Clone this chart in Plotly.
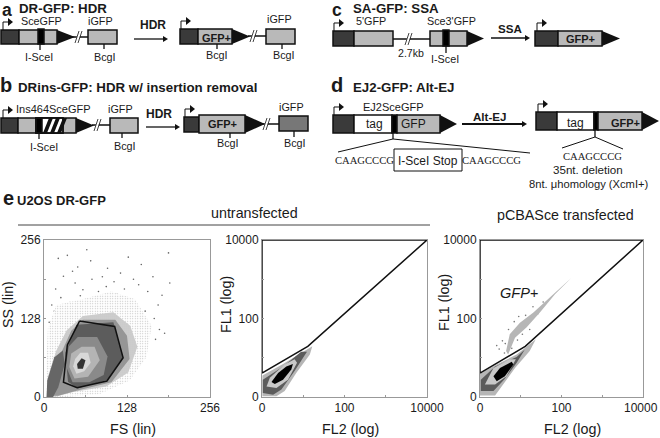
import numpy as np
import plotly.graph_objects as go

W, H = 660, 438
FONT = "Liberation Sans"
INK = "#1a1a1a"
GREY = "#b9b9b9"
DARK = "#3a3a3a"

# FS / SS panel, channel values
gate_fs = [55, 109, 122, 97, 51, 30, 36, 55]
gate_ss = [124, 115, 64, 26, 15, 24, 85, 124]
cloud_outer_fs = [3, 4, 6, 19, 60, 104, 140, 166, 158, 132, 86, 35]
cloud_outer_ss = [0, 65, 112, 150, 160, 172, 160, 116, 65, 27, 5, 0]
cloud_mid_fs = [4, 6, 19, 35, 60, 107, 133, 144, 130, 96, 45, 19]
cloud_mid_ss = [0, 33, 76, 109, 132, 138, 116, 82, 40, 17, 8, 1]
cloud_inner_fs = [8, 24, 42, 60, 110, 128, 132, 104, 50, 22]
cloud_inner_ss = [2, 66, 108, 126, 126, 100, 62, 24, 10, 2]
cloud_dense_fs = [37, 33, 50, 107, 122, 98, 52]
cloud_dense_ss = [25, 72, 118, 122, 65, 28, 14]
streak_fs = [4, 5, 16, 29, 32, 22, 14]
streak_ss = [0, 27, 65, 76, 54, 16, 0]
ring_fs = [52, 82, 98, 92, 70, 44, 34, 38]
ring_ss = [98, 98, 66, 36, 24, 24, 50, 82]
halo_fs = [58, 78, 86, 68, 47, 39, 42]
halo_ss = [82, 82, 60, 33, 30, 49, 71]
glow_fs = [56, 68, 72, 62, 50, 45, 48]
glow_ss = [72, 72, 56, 42, 38, 50, 62]
core_fs = [58, 64, 60, 52, 51]
core_ss = [63, 60, 46, 46, 54]
sparse_fs = [22, 36, 44, 52, 66, 72, 90, 98, 108, 118, 130, 150, 168, 192, 194, 182, 176, 160,
             146, 138, 124, 112, 96, 84, 74, 60, 48, 30, 18, 12, 8, 16, 26, 40, 56, 70, 88,
             104, 122, 142, 156, 170, 178, 186, 172, 150, 128, 110, 92, 78, 62, 42, 28, 14, 10,
             34, 50, 68, 82, 100, 116, 134, 148, 164]
sparse_ss = [226, 231, 205, 212, 240, 222, 196, 210, 188, 202, 228, 216, 196, 235, 186, 166, 150,
             172, 183, 192, 176, 168, 180, 172, 192, 175, 186, 197, 176, 150, 122, 140, 162, 154,
             165, 156, 160, 150, 158, 150, 140, 128, 110, 104, 94, 84, 66, 40, 14, 12, 10, 6, 14,
             120, 96, 140, 132, 148, 138, 144, 134, 138, 126, 114]

# FL2 / FL1 panels, positions in log10 decades
fl_gate_x = [0, 0, 4, 1.11, 0]
fl_gate_y = [0.61, 4, 4, 1.29, 0.61]

untr_outer_x = [0.01, 0.01, 0.51, 0.99, 1.22, 1.16, 0.83, 0.55, 0.35]
untr_outer_y = [0.02, 0.55, 0.84, 1.15, 1.29, 1.08, 0.61, 0.15, 0.02]
untr_mid_x = [0.02, 0.02, 0.51, 0.95, 1.09, 0.79, 0.47, 0.27]
untr_mid_y = [0.10, 0.44, 0.78, 1.15, 1.15, 0.66, 0.19, 0.06]
untr_light_x = [0.11, 0.19, 0.55, 0.79, 0.85, 0.63, 0.35]
untr_light_y = [0.27, 0.49, 0.83, 0.96, 0.87, 0.44, 0.23]
untr_core_x = [0.23, 0.39, 0.59, 0.75, 0.71, 0.51, 0.31]
untr_core_y = [0.38, 0.61, 0.78, 0.84, 0.70, 0.44, 0.33]

trans_outer_x = [0, 0, 0.41, 0.90, 1.37, 1.22, 0.86, 0.53, 0.37]
trans_outer_y = [0.04, 0.59, 0.83, 1.08, 1.47, 1.17, 0.74, 0.27, 0.04]
trans_mid_x = [0.02, 0.02, 0.37, 0.90, 1.10, 0.90, 0.59, 0.33]
trans_mid_y = [0.15, 0.44, 0.78, 1.02, 1.21, 0.87, 0.44, 0.15]
trans_light_x = [0.12, 0.33, 0.73, 0.88, 0.65, 0.37]
trans_light_y = [0.32, 0.74, 0.96, 0.96, 0.53, 0.32]
trans_core_x = [0.33, 0.49, 0.78, 0.82, 0.61, 0.41]
trans_core_y = [0.53, 0.74, 0.90, 0.83, 0.53, 0.40]
gfp_x = [0.64, 0.73, 0.98, 1.31, 1.80, 2.24, 1.84, 1.47, 1.14, 0.86, 0.69]
gfp_y = [1.17, 1.60, 1.89, 2.15, 2.62, 3.03, 2.62, 2.15, 1.77, 1.51, 1.08]
gfp_sparse_x = [0.41, 0.47, 0.55, 0.60, 0.62, 0.70, 0.78, 0.84, 0.92, 0.95, 1.04, 1.12, 1.22, 1.30, 1.42, 1.55]
gfp_sparse_y = [1.31, 1.22, 1.43, 1.12, 1.36, 1.72, 1.24, 1.92, 1.45, 2.05, 1.60, 2.08, 1.72, 2.30, 2.12, 2.42]

log_ticks = [1, 10, 100, 1000, 10000]
log_labels = ["0", "", "100", "", "10000"]
log_labels_edge = ["0", "", "100", "", ""]
lin_ticks = [0, 64, 128, 192, 256]
lin_labels = ["0", "", "128", "", "256"]


def px(x):
    return x / W


def py(y):
    return 1 - y / H


def box(x0, y0, x1, y1, fill=GREY, width=1.5):
    return dict(type="rect", xref="paper", yref="paper", x0=px(x0), x1=px(x1), y0=py(y1), y1=py(y0),
                fillcolor=fill, line=dict(color="#111", width=width))


def poly(points, fill="#111", width=0):
    path = "M " + " L ".join(f"{px(x):.5f},{py(y):.5f}" for x, y in points)
    if fill != "none":
        path += " Z"
    return dict(type="path", xref="paper", yref="paper", path=path,
                fillcolor=fill if fill != "none" else "rgba(0,0,0,0)",
                line=dict(color="#111", width=width))


def seg(x0, y0, x1, y1, width=1.3, color="#111"):
    return dict(type="line", xref="paper", yref="paper", x0=px(x0), x1=px(x1), y0=py(y0), y1=py(y1),
                line=dict(color=color, width=width))


def promoter(x, y):
    # bent arrow above the first box, y is the box top
    return [poly([(x, y), (x, y - 8), (x + 5, y - 8)], fill="none", width=1),
            poly([(x + 5, y - 12), (x + 5, y - 4), (x + 10, y - 8)])]


def breakline(x0, x1, y, mark):
    return [seg(x0, y, x1, y, 1.5),
            poly([(mark - 1, y - 1.5), (mark + 2, y - 1.5), (mark + 1.5, y + 1.5), (mark - 1.5, y + 1.5)], fill="#fff"),
            seg(mark - 3, y + 6, mark + 1, y - 6, 0.8), seg(mark, y + 6, mark + 4, y - 6, 0.8)]


def arrow(x0, x1, y, width=1.3):
    return [seg(x0, y, x1 - 3, y, width), poly([(x1 - 5, y - 3), (x1 - 5, y + 3), (x1, y)])]


def tip(x, y0, y1, size=18):
    return poly([(x, y0), (x, y1), (x + size, (y0 + y1) / 2)])


shapes = []
# a
shapes += promoter(3, 30) + [box(1, 30, 19, 44, DARK), box(19, 30, 57, 44), box(38, 29, 44, 44, "#000"),
                             tip(57, 30, 44), box(88, 30, 117, 44), seg(40, 44, 40, 50), seg(104, 44, 104, 49)]
shapes += breakline(72, 88, 37, 78) + arrow(134, 168, 39)
shapes += promoter(181, 29) + [box(180, 29, 198, 44, DARK), box(198, 29, 232, 44), tip(232, 29, 44),
                               box(266, 29, 295, 44), seg(217, 44, 217, 49), seg(282, 44, 282, 49)]
shapes += breakline(248, 266, 36, 253)
# b
shapes += promoter(3, 118) + [box(1, 118, 18, 133, DARK), box(18, 118, 76, 133), box(36, 118, 63, 133, "#fff"),
                              box(36, 118, 42, 133, "#000")]
for hx in (43, 50, 57):
    shapes.append(poly([(hx, 133), (hx + 4, 133), (hx + 10, 118), (hx + 6, 118)]))
shapes += [box(36, 118, 63, 133, "rgba(0,0,0,0)"), tip(76, 118, 133), box(110, 118, 138, 133),
           seg(39, 133, 39, 139), seg(122, 133, 122, 138)]
shapes += breakline(92, 110, 125, 97) + arrow(146, 180, 127)
shapes += promoter(185, 117) + [box(184, 117, 199, 132, DARK), box(199, 115, 245, 133), tip(245, 115, 133, 20),
                                box(279, 116, 308, 131, "#777"), seg(230, 133, 230, 138), seg(294, 131, 294, 137)]
shapes += breakline(262, 279, 124, 266)
# c
shapes += promoter(334, 31) + [box(333, 31, 354, 46, DARK), box(354, 31, 393, 46), box(430, 31, 467, 46),
                               box(443, 30, 449, 46, "#000"), tip(467, 31, 46, 17), seg(446, 46, 446, 53)]
shapes += breakline(393, 430, 39, 408) + arrow(491, 530, 38)
shapes += promoter(537, 31) + [box(535, 31, 558, 46, DARK), box(558, 31, 602, 46), tip(602, 31, 46)]
# d
shapes += promoter(334, 115) + [box(333, 115, 354, 133, DARK), box(354, 115, 392, 133, "#fff"),
                                box(392, 115, 397, 133, "#000"), box(397, 115, 440, 133), tip(440, 115, 133, 17),
                                seg(393, 133, 393, 139), seg(393, 139, 338, 152, 1), seg(393, 139, 530, 153, 1),
                                box(394, 149, 462, 171, "#fff", 1)]
shapes += arrow(462, 527, 124, 1.8)
shapes += promoter(538, 112) + [box(536, 112, 557, 130, DARK), box(557, 112, 594, 130, "#fff"),
                                box(594, 112, 598, 130, "#000"), box(598, 112, 642, 130), tip(642, 112, 130, 17),
                                seg(595, 130, 595, 137), seg(595, 137, 562, 148, 1), seg(595, 137, 623, 149, 1)]
# e
shapes += [seg(18, 225, 430, 225, 1, "#444")]

LABELS = [
    ("a", 7, 10, 17.5, True), ("DR-GFP: HDR", 17, 8, 13.3, True, "left"),
    ("SceGFP", 41, 21, 10.8), ("iGFP", 100, 21, 10.8), ("I-SceI", 39, 57, 10.8), ("BcgI", 105, 57, 10.8),
    ("HDR", 153, 25, 12, True), ("GFP+", 216, 38, 11, True), ("BcgI", 217, 55, 10.8), ("BcgI", 284, 55, 10.8),
    ("iGFP", 279, 19, 10.8),
    ("b", 6, 85, 20, True), ("DRins-GFP: HDR w/ insertion removal", 16, 87, 13.3, True, "left"),
    ("Ins464SceGFP", 53, 109, 11), ("iGFP", 121, 109, 10.8), ("I-SceI", 44, 147, 10.8), ("BcgI", 125, 146, 10.8),
    ("HDR", 159, 114, 12, True), ("GFP+", 222, 124, 11, True), ("BcgI", 228, 143, 10.8), ("BcgI", 295, 143, 10.8),
    ("iGFP", 291, 107, 10.8),
    ("c", 337, 10, 17.5, True), ("SA-GFP: SSA", 351, 8, 13.3, True, "left"),
    ("5'GFP", 371, 21, 10.8), ("Sce3'GFP", 451, 21, 10.8), ("2.7kb", 411, 53, 10.6), ("I-SceI", 445, 59, 10.8),
    ("SSA", 510, 29, 11.6, True), ("GFP+", 580, 39, 11, True),
    ("d", 337, 85, 20, True), ("EJ2-GFP: Alt-EJ", 351, 87, 13.3, True, "left"),
    ("EJ2SceGFP", 393, 107, 11), ("tag", 374, 124, 12), ("GFP", 413, 124, 12),
    ("I-SceI Stop", 428, 161, 12), ("Alt-EJ", 490, 117, 11.6, True), ("tag", 575, 123, 12),
    ("GFP+", 625, 123, 11, True), ("35nt. deletion", 588, 170, 11.6), ("8nt. \u03bchomology (XcmI+)", 589, 184, 11.2),
    ("e", 8, 198, 20, True), ("U2OS DR-GFP", 15, 200, 13, True, "left"),
    ("untransfected", 254, 213, 14.3), ("pCBASce transfected", 565, 215, 14.3), ("<i>GFP+</i>", 519, 293, 14.5),
    # plotly drops this tick label at the page edge
    ("10000", 641, 408, 12),
]

annotations = []
for item in LABELS:
    text, x, y, size = item[:4]
    bold = len(item) > 4 and item[4]
    anchor = item[5] if len(item) > 5 else "center"
    annotations.append(dict(text=f"<b>{text}</b>" if bold else text, x=px(x), y=py(y), xref="paper", yref="paper",
                            xanchor=anchor, yanchor="middle", showarrow=False,
                            font=dict(family=FONT, size=size, color=INK)))
for x, y in [(365, 160), (491, 160), (592, 157)]:
    annotations.append(dict(text="CAAGCCCG", x=px(x), y=py(y), xref="paper", yref="paper", showarrow=False,
                            xanchor="center", yanchor="middle",
                            font=dict(family="Liberation Serif", size=10.6, color=INK)))
# axis titles, placed by hand because the 10000 labels would push them out
for text, x, y, angle in [("FS (lin)", 133, 429, 0), ("FL2 (log)", 350, 429, 0), ("FL2 (log)", 572, 429, 0),
                          ("SS (lin)", 8, 305, -90), ("FL1 (log)", 226, 305, -90), ("FL1 (log)", 444, 303, -90)]:
    annotations.append(dict(text=text, x=px(x), y=py(y), xref="paper", yref="paper", showarrow=False, textangle=angle,
                            xanchor="center", yanchor="middle", font=dict(family=FONT, size=14.3, color=INK)))


def patch(x, y, color, xa, ya, pattern=None):
    return go.Scatter(x=x, y=y, xaxis=xa, yaxis=ya, mode="lines", fill="toself", fillcolor=color,
                      fillpattern=pattern, line=dict(width=0), hoverinfo="skip", showlegend=False)


def dec(values):
    return 10 ** np.array(values, dtype=float)


fig = go.Figure()
stipple = dict(shape=".", size=2.5, solidity=0.16, fgcolor="#777", bgcolor="#fff")
stipple_mid = dict(shape=".", size=2, solidity=0.4, fgcolor="#666", bgcolor="#e4e4e4")
stipple_inner = dict(shape=".", size=2, solidity=0.5, fgcolor="#555", bgcolor="#a8a8a8")
stipple_fl = dict(shape=".", size=2, solidity=0.5, fgcolor="#666", bgcolor="#ccc")

# scatter FS / SS
fig.add_trace(go.Scatter(x=sparse_fs, y=sparse_ss, xaxis="x", yaxis="y", mode="markers",
                         marker=dict(size=1.6, color="#666"), showlegend=False))
fig.add_trace(patch(cloud_outer_fs, cloud_outer_ss, "#eee", "x", "y", stipple))
fig.add_trace(patch(cloud_mid_fs, cloud_mid_ss, "#ccc", "x", "y", stipple_mid))
fig.add_trace(patch(cloud_inner_fs, cloud_inner_ss, "#999", "x", "y", stipple_inner))
fig.add_trace(patch(streak_fs, streak_ss, "#666", "x", "y"))
fig.add_trace(patch(cloud_dense_fs, cloud_dense_ss, "#5c5c5c", "x", "y"))
fig.add_trace(patch(ring_fs, ring_ss, "#8a8a8a", "x", "y"))
fig.add_trace(patch(halo_fs, halo_ss, "#b4b4b4", "x", "y"))
fig.add_trace(patch(glow_fs, glow_ss, "#d8d8d8", "x", "y"))
fig.add_trace(patch(core_fs, core_ss, "#333", "x", "y"))
fig.add_trace(go.Scatter(x=gate_fs, y=gate_ss, xaxis="x", yaxis="y", mode="lines",
                         line=dict(color="#111", width=1.5), showlegend=False))

# untransfected
fig.add_trace(patch(dec(untr_outer_x), dec(untr_outer_y), "#bbb", "x2", "y2", stipple_fl))
for xs, ys, c in [(untr_mid_x, untr_mid_y, "#5c5c5c"), (untr_light_x, untr_light_y, "#c8c8c8"),
                  (untr_core_x, untr_core_y, "#000")]:
    fig.add_trace(patch(dec(xs), dec(ys), c, "x2", "y2"))
fig.add_trace(go.Scatter(x=dec(fl_gate_x), y=dec(fl_gate_y), xaxis="x2", yaxis="y2", mode="lines", cliponaxis=False,
                         line=dict(color="#111", width=1.5), showlegend=False))

# transfected
fig.add_trace(go.Scatter(x=dec(gfp_sparse_x), y=dec(gfp_sparse_y), xaxis="x3", yaxis="y3", mode="markers",
                         marker=dict(size=1.6, color="#777"), showlegend=False))
fig.add_trace(patch(dec(gfp_x), dec(gfp_y), "#999", "x3", "y3", stipple_fl))
fig.add_trace(patch(dec(trans_outer_x), dec(trans_outer_y), "#bbb", "x3", "y3", stipple_fl))
for xs, ys, c in [(trans_mid_x, trans_mid_y, "#5c5c5c"), (trans_light_x, trans_light_y, "#c8c8c8"),
                  (trans_core_x, trans_core_y, "#000")]:
    fig.add_trace(patch(dec(xs), dec(ys), c, "x3", "y3"))
fig.add_trace(go.Scatter(x=dec(fl_gate_x), y=dec(fl_gate_y), xaxis="x3", yaxis="y3", mode="lines", cliponaxis=False,
                         line=dict(color="#111", width=1.5), showlegend=False))


def axis(domain, anchor, ticks, labels, log=False):
    ax = dict(domain=domain, anchor=anchor, tickmode="array", tickvals=ticks, ticktext=labels,
              ticks="inside", ticklen=2, tickcolor="#999", showgrid=False, zeroline=False,
              showline=True, mirror=True, linecolor="#999", linewidth=1, automargin=False,
              tickfont=dict(family=FONT, size=12, color=INK))
    if log:
        ax.update(type="log", range=[0, 4])
    else:
        ax.update(range=[0, 256])
    return ax


y_dom = [py(397), py(240)]
fig.update_layout(
    width=W, height=H, margin=dict(l=0, r=0, t=0, b=0, autoexpand=False), paper_bgcolor="#fff", plot_bgcolor="#fff",
    showlegend=False, shapes=shapes, annotations=annotations,
    xaxis=axis([px(44), px(210)], "y", lin_ticks, lin_labels),
    yaxis=axis(y_dom, "x", lin_ticks, lin_labels),
    xaxis2=axis([px(262), px(427)], "y2", log_ticks, log_labels, True),
    yaxis2=axis(y_dom, "x2", log_ticks, log_labels, True),
    xaxis3=axis([px(480), px(643)], "y3", log_ticks, log_labels_edge, True),
    yaxis3=axis(y_dom, "x3", log_ticks, log_labels, True),
)

fig.write_html("out.html", config=dict(displayModeBar=False), post_script="document.body.style.margin='0';")
